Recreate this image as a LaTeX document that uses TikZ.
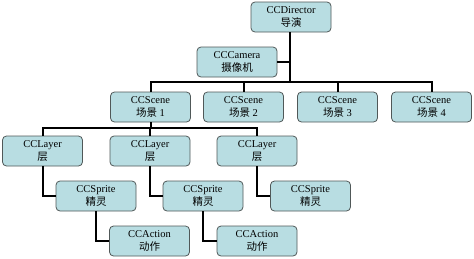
\documentclass[tikz,border=0pt]{standalone}
\usepackage{fontspec}
\setmainfont{Liberation Serif}
\newfontfamily\cjk{Noto Sans CJK SC}
\definecolor{boxfill}{HTML}{B8DDE2}
\definecolor{boxline}{HTML}{505858}
\begin{document}
\begin{tikzpicture}[x=1pt,y=-1pt,
  box/.style={draw=boxline,line width=0.8pt,fill=boxfill,rounded corners=4pt,
    minimum width=80pt,minimum height=30pt,inner sep=0pt,align=center,
    font=\fontsize{10.5}{13}\selectfont},
  link/.style={draw=black,line width=2pt}]
\useasboundingbox (0,0) rectangle (474,258);
\newcommand{\bx}[3]{\node[box] (#1) at #2 {#3};}
\bx{dir}{(291,17)}{CCDirector\\{\cjk 导演}}
\bx{cam}{(237,62)}{CCCamera\\{\cjk 摄像机}}
\bx{s1}{(150.5,107)}{CCScene\\{\cjk 场景} 1}
\bx{s2}{(243.5,107)}{CCScene\\{\cjk 场景} 2}
\bx{s3}{(337.5,107)}{CCScene\\{\cjk 场景} 3}
\bx{s4}{(431.5,107)}{CCScene\\{\cjk 场景} 4}
\bx{l1}{(42.5,151)}{CCLayer\\{\cjk 层}}
\bx{l2}{(150,151)}{CCLayer\\{\cjk 层}}
\bx{l3}{(257,151)}{CCLayer\\{\cjk 层}}
\bx{p1}{(96,196)}{CCSprite\\{\cjk 精灵}}
\bx{p2}{(203,196)}{CCSprite\\{\cjk 精灵}}
\bx{p3}{(310.5,196)}{CCSprite\\{\cjk 精灵}}
\bx{a1}{(149.5,241)}{CCAction\\{\cjk 动作}}
\bx{a2}{(257,241)}{CCAction\\{\cjk 动作}}
% director to scenes
\coordinate (bar) at (290,82);
\draw[link] (dir.south -| bar) -- (bar);
\draw[link] (cam.east) -- (cam.east -| bar);
\draw[link] (s1.north) |- (bar) -| (s4.north);
\draw[link] (s2.north) -- (s2.north |- bar);
\draw[link] (s3.north) -- (s3.north |- bar);
% scene 1 to layers
\coordinate (bar2) at (150,128);
\draw[link] (s1.south) -- (s1.south |- bar2);
\draw[link] (l1.north) |- (bar2) -| (l3.north);
\draw[link] (l2.north) -- (l2.north |- bar2);
% layers to sprites
\draw[link] (l1.south) |- (p1.west);
\draw[link] (l2.south) |- (p2.west);
\draw[link] (l3.south) |- (p3.west);
% sprites to actions
\draw[link] (p1.south) |- (a1.west);
\draw[link] (p2.south) |- (a2.west);
\end{tikzpicture}
\end{document}
